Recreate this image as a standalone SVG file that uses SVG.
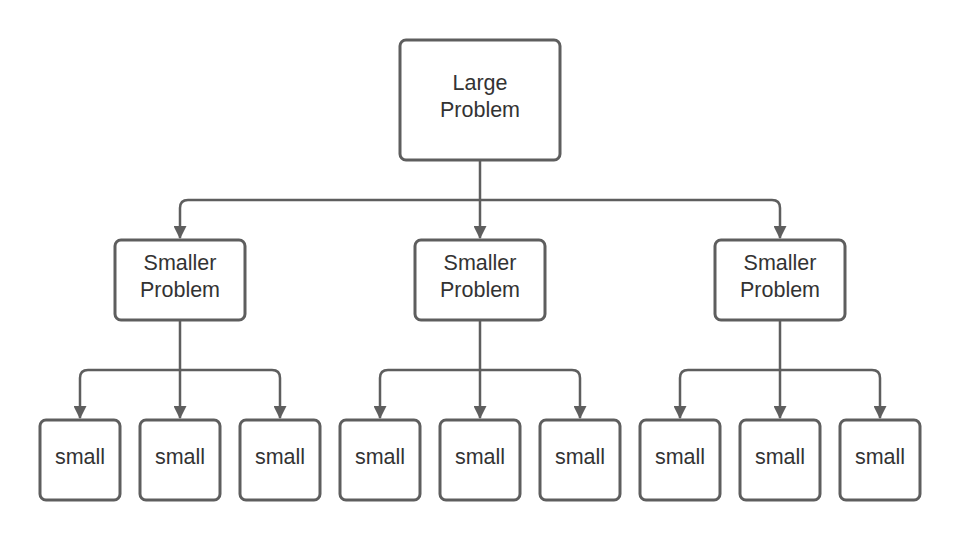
<svg xmlns="http://www.w3.org/2000/svg" width="960" height="540" viewBox="0 0 960 540">
<defs>
<style>
.box{fill:#fff;stroke:#5e5e5e;stroke-width:3}
.ln{fill:none;stroke:#5e5e5e;stroke-width:2.5}
.t{font-family:"Liberation Sans",Arial,sans-serif;font-size:21.5px;fill:#333;text-anchor:middle}
</style>
<marker id="ah" viewBox="0 0 12 12" refX="11" refY="6" markerWidth="13" markerHeight="13" markerUnits="userSpaceOnUse" orient="auto">
<path d="M0,0 L12,6 L0,12 Z" fill="#5e5e5e"/>
</marker>
</defs>
<rect width="960" height="540" fill="#fff"/>
<g id="connectors">
<path class="ln" d="M480,160 V200" />
<path class="ln" d="M480,200 H188 Q180,200 180,208 V238" marker-end="url(#ah)"/>
<path class="ln" d="M480,200 V238" marker-end="url(#ah)"/>
<path class="ln" d="M480,200 H772 Q780,200 780,208 V238" marker-end="url(#ah)"/>
<path class="ln" d="M180,320 V370 H88 Q80,370 80,378 V418" marker-end="url(#ah)"/>
<path class="ln" d="M180,370 V418" marker-end="url(#ah)"/>
<path class="ln" d="M180,370 H272 Q280,370 280,378 V418" marker-end="url(#ah)"/>
<path class="ln" d="M480,320 V370 H388 Q380,370 380,378 V418" marker-end="url(#ah)"/>
<path class="ln" d="M480,370 V418" marker-end="url(#ah)"/>
<path class="ln" d="M480,370 H572 Q580,370 580,378 V418" marker-end="url(#ah)"/>
<path class="ln" d="M780,320 V370 H688 Q680,370 680,378 V418" marker-end="url(#ah)"/>
<path class="ln" d="M780,370 V418" marker-end="url(#ah)"/>
<path class="ln" d="M780,370 H872 Q880,370 880,378 V418" marker-end="url(#ah)"/>
</g>
<g id="large"><rect class="box" x="400" y="40" width="160" height="120" rx="6"/><text class="t" x="480" y="90">Large</text><text class="t" x="480" y="117">Problem</text></g>
<g id="smaller1"><rect class="box" x="115" y="240" width="130" height="80" rx="6"/><text class="t" x="180" y="270">Smaller</text><text class="t" x="180" y="297">Problem</text></g>
<g id="smaller2"><rect class="box" x="415" y="240" width="130" height="80" rx="6"/><text class="t" x="480" y="270">Smaller</text><text class="t" x="480" y="297">Problem</text></g>
<g id="smaller3"><rect class="box" x="715" y="240" width="130" height="80" rx="6"/><text class="t" x="780" y="270">Smaller</text><text class="t" x="780" y="297">Problem</text></g>
<g id="small1"><rect class="box" x="40" y="420" width="80" height="80" rx="6"/><text class="t" x="80" y="464">small</text></g>
<g id="small2"><rect class="box" x="140" y="420" width="80" height="80" rx="6"/><text class="t" x="180" y="464">small</text></g>
<g id="small3"><rect class="box" x="240" y="420" width="80" height="80" rx="6"/><text class="t" x="280" y="464">small</text></g>
<g id="small4"><rect class="box" x="340" y="420" width="80" height="80" rx="6"/><text class="t" x="380" y="464">small</text></g>
<g id="small5"><rect class="box" x="440" y="420" width="80" height="80" rx="6"/><text class="t" x="480" y="464">small</text></g>
<g id="small6"><rect class="box" x="540" y="420" width="80" height="80" rx="6"/><text class="t" x="580" y="464">small</text></g>
<g id="small7"><rect class="box" x="640" y="420" width="80" height="80" rx="6"/><text class="t" x="680" y="464">small</text></g>
<g id="small8"><rect class="box" x="740" y="420" width="80" height="80" rx="6"/><text class="t" x="780" y="464">small</text></g>
<g id="small9"><rect class="box" x="840" y="420" width="80" height="80" rx="6"/><text class="t" x="880" y="464">small</text></g>
</svg>
